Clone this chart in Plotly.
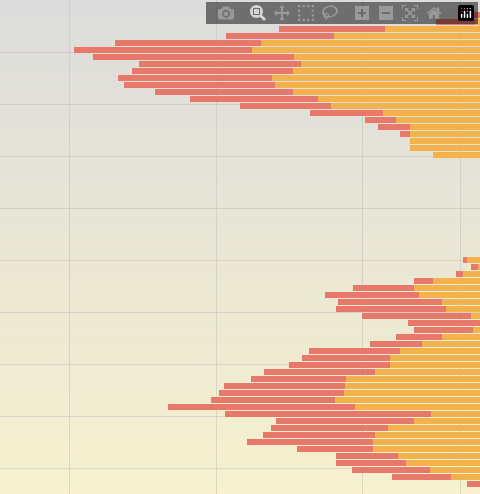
import plotly.graph_objects as go
import zlib, struct, base64

rows = list(range(68))
orange = [0, 0.5, 9.5, 14.6, 21.9, 22.8, 18.6, 17.9, 18.7, 20.8, 20.5, 18.7, 16.2, 14.9, 9.7, 8.4, 7.0, 7.0, 7.0, 7.0, 4.7,
          0, 0, 0, 0, 0, 0, 0, 0, 0, 0, 0, 0, 0, 0,
          1.3, 0.2, 1.7, 4.7, 6.6, 6.1, 3.8, 3.4, 0.9, 0, 0.7, 3.8, 5.8, 8.0, 9.0, 9.0, 10.5, 13.4, 13.5, 13.6, 14.5,
          12.5, 4.9, 6.6, 9.2, 10.5, 10.7, 10.7, 8.2, 7.4, 5.0, 2.9, 0]
red = [1.0, 3.9, 10.6, 10.8, 14.6, 17.8, 20.1, 16.2, 16.1, 15.4, 15.1, 13.8, 12.8, 9.1, 7.3, 3.1, 3.2, 1.0, 0, 0, 0,
       0, 0, 0, 0, 0, 0, 0, 0, 0, 0, 0, 0, 0, 0,
       0.4, 0.7, 0.7, 1.9, 6.1, 9.4, 10.4, 11.0, 10.9, 7.2, 5.9, 4.6, 5.2, 9.1, 8.8, 10.1, 11.1, 9.5, 12.1, 12.5, 12.4,
       18.7, 20.6, 13.8, 11.7, 11.2, 12.6, 7.6, 6.2, 7.0, 7.8, 5.9, 1.3]
x_grid = [41.1, 26.4, 11.8, 2.0]

def gradient_png(top, bottom, n=256):
    raw = b""
    for i in range(n):
        t = i / (n - 1)
        c = bytes(int(round(top[k] + (bottom[k] - top[k]) * t)) for k in range(3))
        raw += b"\x00" + c
    def chunk(tag, data):
        return struct.pack(">I", len(data)) + tag + data + struct.pack(">I", zlib.crc32(tag + data) & 0xffffffff)
    png = b"\x89PNG\r\n\x1a\n" + chunk(b"IHDR", struct.pack(">IIBBBBB", 1, n, 8, 2, 0, 0, 0)) \
        + chunk(b"IDAT", zlib.compress(raw)) + chunk(b"IEND", b"")
    return "data:image/png;base64," + base64.b64encode(png).decode()

fig = go.Figure()
fig.add_trace(go.Bar(y=rows, x=orange, orientation="h", marker=dict(color="#f4b24c", line_width=0), width=0.86))
fig.add_trace(go.Bar(y=rows, x=red, orientation="h", marker=dict(color="#e8796a", line_width=0), width=0.86))
fig.update_layout(
    width=480, height=494, margin=dict(l=0, r=0, t=0, b=0),
    barmode="stack", showlegend=False,
    paper_bgcolor="rgba(0,0,0,0)", plot_bgcolor="rgba(0,0,0,0)",
    images=[dict(source=gradient_png((220, 220, 220), (246, 241, 206)), xref="paper", yref="paper",
                 x=0, y=1, sizex=1, sizey=1, sizing="stretch", layer="below", xanchor="left", yanchor="top")],
    xaxis=dict(range=[48, 0], tickvals=x_grid, showticklabels=False, showgrid=True,
               gridcolor="rgba(190,190,190,0.5)", zeroline=False, ticks=""),
    yaxis=dict(range=[(494 - 15) / 7, -15 / 7], tickvals=[(52 * k - 15) / 7 for k in range(1, 10)],
               showticklabels=False, showgrid=True, gridcolor="rgba(190,190,190,0.5)", zeroline=False, ticks=""),
)
fig.write_html("out.html", post_script="document.body.style.margin='0';document.body.style.overflow='hidden';")
